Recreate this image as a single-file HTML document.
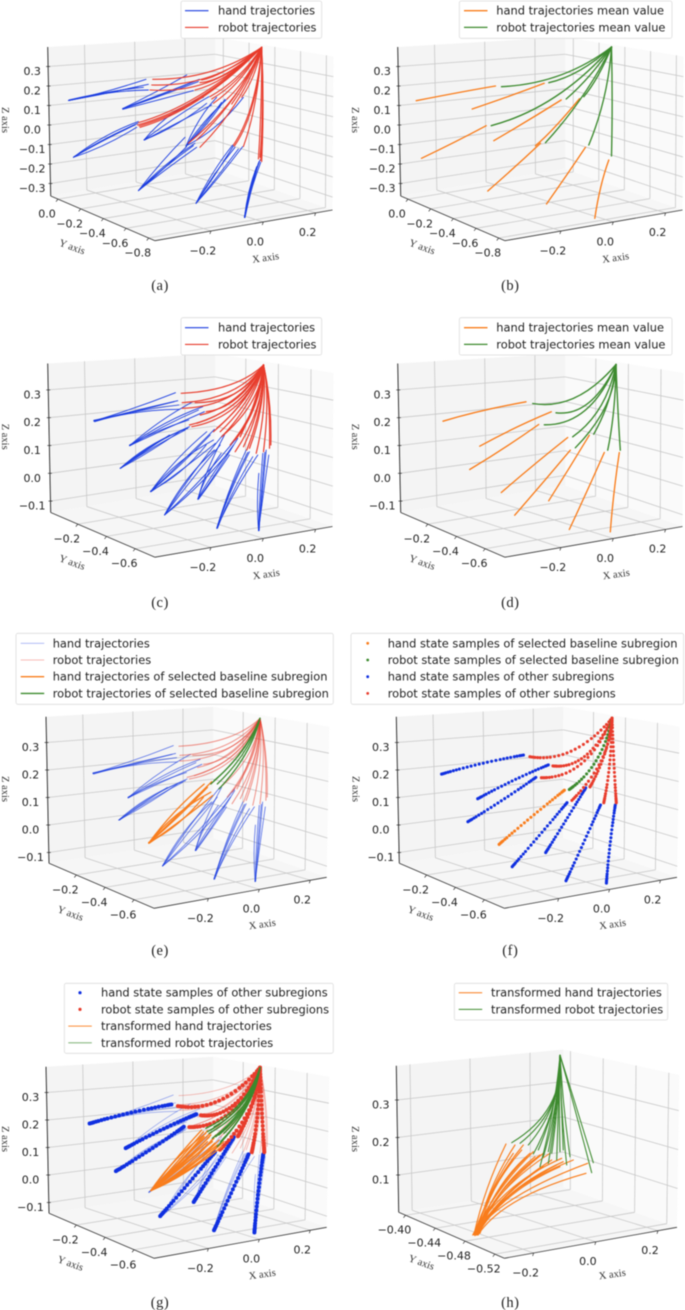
<!DOCTYPE html>
<html lang="en">
<head>
<meta charset="utf-8">
<title>Hand and robot trajectories</title>
<style>
html,body{margin:0;padding:0;background:#fff;}
#figure{display:block;width:685px;height:1310px;filter:blur(0.4px);}
.tick{font-family:"DejaVu Sans","Liberation Sans",sans-serif;font-size:11px;fill:#222;text-anchor:middle;}
.legend-text{font-family:"DejaVu Sans","Liberation Sans",sans-serif;font-size:11.4px;fill:#222;}
.axis-title{font-family:"Liberation Serif",serif;font-size:10.5px;fill:#333;text-anchor:middle;}
.caption{font-family:"Liberation Serif",serif;font-size:14.5px;letter-spacing:.5px;fill:#222;text-anchor:middle;}
</style>
</head>
<body>
<svg id="figure" xmlns="http://www.w3.org/2000/svg" width="685" height="1310" viewBox="0 0 685 1310"></svg>
<script>
/* Values: projected offsets from the shared start of the
   robot trajectories, in view units (sideways, drop). Hand lines: near, mid, far. Robot lines: mid, end. */
const handBundlesA = [
 [[-347,96,-465,132,-580,160],[-340,111,-460,136,-580,160],[-340,128,-460,137,-580,160],[-370,118,-475,140,-580,160],[-355,120,-470,136,-578,158]],
 [[-225,83,-320,135,-417,184],[-187,96,-300,140,-417,184],[-190,103,-305,146,-415,184],[-205,130,-310,158,-417,186],[-195,100,-310,145,-417,184]],
 [[-370,223,-470,268,-565,330],[-375,240,-470,292,-565,330],[-380,233,-475,280,-565,330],[-372,228,-470,275,-563,328]],
 [[-158,148,-250,205,-353,278],[-165,168,-255,230,-353,278],[-150,173,-250,225,-351,278],[-175,150,-270,200,-353,278]],
 [[-230,270,-300,345,-370,430],[-200,288,-290,355,-370,430],[-195,300,-285,365,-370,430],[-225,298,-295,365,-370,430],[-205,295,-290,360,-368,428]],
 [[-135,150,-185,215,-227,296],[-110,156,-165,230,-227,296],[-107,158,-170,222,-227,296],[-55,150,-135,235,-227,296],[-120,165,-175,235,-227,296]],
 [[-87,293,-145,375,-197,468],[-85,296,-140,382,-197,468],[-57,298,-128,388,-197,468],[-70,305,-135,390,-197,468],[-80,300,-142,382,-195,466]],
 [[-5,338,-33,425,-52,511],[-8,343,-35,428,-52,511],[-10,348,-32,432,-50,511],[-15,358,-38,432,-52,511],[-3,345,-30,425,-52,509]]
];
const robotBundlesA = [
 [[-155,73,-327,96],[-155,88,-330,113],[-155,103,-335,128]],
 [[-105,68,-180,98],[-105,78,-185,106],[-105,85,-200,128]],
 [[-185,143,-370,226],[-185,155,-365,240],[-185,149,-373,233],[-180,150,-368,236]],
 [[-70,85,-155,148],[-65,95,-145,168],[-68,90,-150,155]],
 [[-85,150,-220,288],[-80,145,-195,278],[-70,155,-185,300]],
 [[-45,85,-105,156],[-25,85,-60,150],[-40,90,-90,170]],
 [[-30,170,-85,293],[-28,175,-82,296],[-20,165,-55,298]],
 [[3,170,-5,330],[4,170,0,343],[-2,170,-10,335],[2,165,-3,340]]
];
const handMeanA = [
 [-348,117,-450,135,-586,161],[-202,109,-300,145,-418,186],[-376,236,-470,285,-570,334],[-151,159,-250,220,-353,281],
 [-213,289,-290,360,-371,432],[-96,155,-170,240,-228,296],[-78,301,-135,385,-195,471],[-8,339,-32,420,-50,514]
];
const robotMeanA = [
 [-155,85,-330,119],[-95,70,-188,107],[-170,150,-361,236],[-65,85,-136,156],
 [-88,149,-198,287],[-40,85,-83,149],[-22,150,-68,294],[2,165,0,327]
];
const handBundlesC = [
 [[-264,83,-385,128,-509,168],[-257,107,-385,137,-509,168],[-254,120,-385,140,-509,168],[-252,133,-385,143,-507,170],[-268,110,-390,140,-509,166]],
 [[-212,110,-310,170,-402,242],[-182,125,-295,175,-402,242],[-177,140,-290,190,-402,242],[-224,165,-315,198,-402,240],[-195,135,-300,185,-400,242]],
 [[-222,185,-330,240,-430,310],[-227,190,-335,240,-430,310],[-252,200,-340,258,-430,310],[-282,210,-360,262,-428,310],[-235,195,-335,250,-430,310]],
 [[-170,200,-260,285,-339,380],[-147,193,-245,290,-339,380],[-144,235,-240,310,-337,380],[-172,240,-250,320,-339,378],[-160,210,-250,300,-339,380],[-150,225,-255,295,-336,378]],
 [[-147,255,-230,345,-297,450],[-122,210,-215,330,-297,450],[-107,265,-200,365,-297,450],[-77,215,-190,345,-297,450],[-130,240,-220,350,-295,448]],
 [[-117,210,-165,310,-197,403],[-127,265,-170,335,-197,403],[-77,220,-140,320,-197,403],[-102,270,-150,340,-195,403],[-90,240,-150,325,-197,401]],
 [[-52,255,-100,370,-140,490],[-42,260,-96,375,-140,490],[-17,270,-85,380,-140,490],[-32,275,-92,382,-138,490],[-47,262,-98,372,-140,488]],
 [[-2,265,-10,380,-15,497],[8,255,-3,378,-15,497],[16,270,0,385,-15,497],[-14,325,-18,410,-15,497],[4,262,-6,380,-13,497]]
];
const robotBundlesC = [
 [[-102,60,-247,85],[-102,80,-244,113],[-102,95,-244,130]],
 [[-85,85,-205,113],[-80,100,-172,140],[-85,100,-190,150]],
 [[-85,115,-222,180],[-85,125,-215,185],[-80,110,-200,175]],
 [[-55,100,-140,190],[-50,105,-130,200],[-45,110,-125,215],[-60,105,-150,200]],
 [[-35,110,-120,210],[-30,125,-100,240],[-20,130,-85,260]],
 [[-25,105,-70,215],[-25,120,-85,225],[-15,120,-60,245]],
 [[-10,120,-50,255],[-8,125,-42,250],[0,130,-22,265]],
 [[10,110,0,260],[15,110,18,250],[18,115,22,240]]
];
const handMeanC = [
 [-270,112,-402,139,-519,170],[-194,142,-302,190,-409,245],[-232,180,-335,250,-439,315],[-145,219,-245,300,-344,384],
 [-137,257,-220,355,-304,452],[-80,212,-140,310,-202,409],[-35,264,-87,380,-140,495],[10,264,-6,385,-17,502]
];
const robotMeanC = [
 [-122,99,-250,117],[-82,115,-180,145],[-92,137,-215,181],[-47,127,-130,217],
 [-32,127,-122,250],[-22,107,-67,209],[-7,137,-25,257],[6,137,13,257]
];
const selectedBundle = 3;
const sampleT = [0,.02,.04,.07,.1,.14,.18,.22,.26,.31,.36,.41,.46,.51,.56,.61,.66,.71,.76,.8,.84,.88,.91,.94,.96,.98,1];
const transformedHandFarG = [-332,374];
const transformedHandG = [
 [-178,190,-262,285],[-172,195,-255,290],[-165,200,-258,282],[-160,192,-248,290],[-155,212,-250,300],[-150,205,-240,295],
 [-145,225,-245,305],[-140,215,-235,300],[-135,205,-225,300],[-130,235,-235,315],[-125,220,-225,310],[-120,230,-222,315],
 [-115,240,-228,320],[-170,210,-255,300],[-148,196,-245,288],[-160,225,-250,305],[-110,225,-218,310],[-138,230,-235,312]
];
const transformedRobotG = [
 [-62,110,-165,185],[-55,108,-150,190],[-50,105,-140,180],[-48,112,-155,200],[-42,110,-125,205],[-40,118,-130,240],
 [-38,108,-110,200],[-38,115,-115,220],[-45,115,-135,210],[-42,120,-120,225],[-52,118,-145,215],[-58,112,-160,195]
];
const transformedHandH = [
 [-162,267,-218,400,-258,538],[-135,270,-205,400,-250,540],[-110,270,-195,395,-255,535],[-90,295,-185,405,-245,540],
 [-50,295,-170,410,-252,538],[5,310,-150,405,-258,535],[10,320,-145,415,-250,540],[83,325,-130,425,-255,535],
 [78,355,-125,435,-245,538],[-30,295,-165,405,-262,540],[-75,305,-180,415,-240,535],[-100,305,-190,415,-255,542],
 [-60,300,-175,410,-248,535],[-10,330,-155,425,-252,538],[-140,315,-210,425,-258,540],[-115,285,-198,405,-245,538],
 [-25,315,-160,420,-250,535],[-50,335,-168,430,-255,538],[0,335,-150,425,-248,540],[-80,290,-182,408,-258,536],
 [-140,295,-208,415,-252,540],[40,315,-140,412,-255,538]
];
const transformedRobotH = [
 [-30,150,-145,263],[-25,148,-120,265],[-22,145,-95,270],[-20,150,-80,297],[-22,165,-60,335],[-15,155,-50,305],
 [-12,165,-35,325],[-8,150,-25,295],[-2,145,0,290],[6,165,20,330],[12,155,30,305],[48,175,95,353],[50,160,100,323],
 [-12,145,-35,290],[-18,143,-65,285],[-5,158,-10,315],[4,142,10,285]
];
const zTicksLong = [0.3,0.2,0.1,0,-0.1,-0.2,-0.3];
const zTicksShort = [0.3,0.2,0.1,0,-0.1];
const zTicksH = [0.3,0.2,0.1];
const xTicks = [-0.2,0,0.2];
const yTicksLong = [0,-0.2,-0.4,-0.6,-0.8];
const yTicksShort = [-0.2,-0.4,-0.6];
const yTicksH = [-0.40,-0.44,-0.48,-0.52];
const legendA = ['hand trajectories','robot trajectories'];
const legendB = ['hand trajectories mean value','robot trajectories mean value'];
const legendE = ['hand trajectories','robot trajectories','hand trajectories of selected baseline subregion','robot trajectories of selected baseline subregion'];
const legendF = ['hand state samples of selected baseline subregion','robot state samples of selected baseline subregion','hand state samples of other subregions','robot state samples of other subregions'];
const legendG = ['hand state samples of other subregions','robot state samples of other subregions','transformed hand trajectories','transformed robot trajectories'];
const legendH = ['transformed hand trajectories','transformed robot trajectories'];

const BLUE='#1b3de0', RED='#e83c2c', ORANGE='#f97d1c', GREEN='#3c8a2e';
const root=document.getElementById('figure');
const NS='http://www.w3.org/2000/svg';

function make(tag,attrs,parent){
  const el=document.createElementNS(NS,tag);
  for(const k in attrs){el.setAttribute(k,attrs[k]);}
  parent.appendChild(el);
  return el;
}
function lerp(p,q,t){return [p[0]+(q[0]-p[0])*t,p[1]+(q[1]-p[1])*t];}
function shiftFrame(f,dx,dy){
  const o={};
  for(const k in f){o[k]=[f[k][0]+dx,f[k][1]+dy];}
  return o;
}
function fmt(v,dec){return (v<0?'\u2212':'')+Math.abs(v).toFixed(dec);}

function segment(g,p,q,color,width,name){
  const el=make('line',{x1:p[0],y1:p[1],x2:q[0],y2:q[1],stroke:color,'stroke-width':width},g);
  
  
  return el;
}
function wall(g,pts,fill,name){
  const el=make('polygon',{points:pts.map(p=>p.join(',')).join(' '),fill:fill},g);
  
  
}
function label(g,x,y,text,cls,name,transform){
  const el=make('text',{x:x,y:y,class:cls},g);
  if(transform){el.setAttribute('transform',transform);}
  el.textContent=text;
  
  
  return el;
}

/* axis functions */
function zFraction(p,v){return (p.z0-p.zk*v-p.f.A[1])/(p.f.B[1]-p.f.A[1]);}
function xFractionBack(p,v){return p.xb[0]+p.xb[1]*v;}
function xFractionFront(p,v){return p.xf[0]+p.xf[1]*v;}
function yFraction(p,v){return p.y0-p.ys*v;}
function viewX(p,u){return p.tip[0]+u*p.k;}
function viewY(p,d){return p.tip[1]+d*p.k;}

function drawFrame(g,p){
  const f=p.f;
  wall(g,[f.A,f.B,f.D,f.C],'#f4f4f4','left-wall');
  wall(g,[f.C,f.D,f.F,f.E],'#fafafa','right-wall');
  wall(g,[f.B,f.G,f.F,f.D],'#f6f6f6','floor');
  const GRID='#c8c8c8';
  p.xTicks.forEach(v=>{
    const b=xFractionBack(p,v), ff=xFractionFront(p,v);
    const bot=lerp(f.B,f.D,b), top=lerp(f.A,f.C,b), front=lerp(f.G,f.F,ff);
    segment(g,bot,top,GRID,.8,'x-gridline-wall');
    segment(g,bot,front,GRID,.8,'x-gridline-floor');
    segment(g,front,[front[0]-1,front[1]+3],'#333',.7,'x-tick-mark');
    label(g,front[0]-8,front[1]+23.3,fmt(v,1),'tick','x-tick-label');
  });
  p.yTicks.forEach(v=>{
    const t=yFraction(p,v);
    const r=lerp(f.D,f.F,t), top=lerp(f.C,f.E,t), edge=lerp(f.B,f.G,t);
    segment(g,r,top,GRID,.8,'y-gridline-wall');
    segment(g,edge,r,GRID,.8,'y-gridline-floor');
    segment(g,edge,[edge[0]-2,edge[1]+2.5],'#333',.7,'y-tick-mark');
    label(g,edge[0]-11,edge[1]+18.5,fmt(v,p.yDec),'tick','y-tick-label');
  });
  p.zTicks.forEach(v=>{
    const t=zFraction(p,v);
    const l=lerp(f.A,f.B,t), m=lerp(f.C,f.D,t), r=lerp(f.E,f.F,t);
    segment(g,l,m,GRID,.8,'z-gridline-left');
    segment(g,m,r,GRID,.8,'z-gridline-right');
    segment(g,[l[0]-2,l[1]],[l[0]+2,l[1]],'#333',.7,'z-tick-mark');
    label(g,f.A[0]-15.5,l[1]+8.5,fmt(v,1),'tick','z-tick-label');
  });
  segment(g,f.A,f.B,'#222',.9,'z-axis-line');
  segment(g,f.B,f.G,'#333',.8,'y-axis-line');
  segment(g,f.G,f.F,'#333',.8,'x-axis-line');
  const T=p.titles;
  label(g,T.x[0],T.x[1],'X axis','axis-title','x-axis-title','rotate(-8 '+T.x[0]+' '+T.x[1]+')');
  label(g,T.y[0],T.y[1],'Y axis','axis-title','y-axis-title','rotate(20 '+T.y[0]+' '+T.y[1]+')');
  label(g,T.z[0],T.z[1],'Z axis','axis-title','z-axis-title','rotate(90 '+T.z[0]+' '+T.z[1]+')');
  label(g,p.cap[0],p.cap[1],p.capText,'caption','panel-caption');
}
function controlPoint(t){
  return [2*t[2]-(t[0]+t[4])/2, 2*t[3]-(t[1]+t[5])/2];
}
function drawCurve(g,p,t,color,width,opacity,name){
  const c=controlPoint(t);
  const d='M'+viewX(p,t[0]).toFixed(1)+' '+viewY(p,t[1]).toFixed(1)+'Q'+viewX(p,c[0]).toFixed(1)+' '+viewY(p,c[1]).toFixed(1)+' '+viewX(p,t[4]).toFixed(1)+' '+viewY(p,t[5]).toFixed(1);
  const el=make('path',{d:d,fill:'none',stroke:color,'stroke-width':width,'stroke-opacity':opacity,'stroke-linecap':'round'},g);
  
  
}
function robotLine(r){return [0,0,r[0],r[1],r[2],r[3]];}
function drawDots(g,p,t,color,radius,name){
  const c=controlPoint(t);
  sampleT.forEach(s=>{
    const a=(1-s)*(1-s), b=2*s*(1-s), e=s*s;
    const u=a*t[0]+b*c[0]+e*t[4], v=a*t[1]+b*c[1]+e*t[5];
    const el=make('circle',{cx:viewX(p,u).toFixed(1),cy:viewY(p,v).toFixed(1),r:radius,fill:color},g);
    
    
  });
}
function drawBundles(g,p,hands,robots,hc,rc,hw,rw,hOp,rOp,skip){
  hands.forEach((bundle,i)=>{ if(i!==skip){bundle.forEach(t=>drawCurve(g,p,t,hc,hw,hOp,'hand-trajectory'));} });
  robots.forEach((bundle,i)=>{ if(i!==skip){bundle.forEach(r=>drawCurve(g,p,robotLine(r),rc,rw,rOp,'robot-trajectory'));} });
}
function drawMeans(g,p,hands,robots,hc,rc,w){
  hands.forEach(t=>drawCurve(g,p,t,hc,w,1,'hand-mean-trajectory'));
  robots.forEach(r=>drawCurve(g,p,robotLine(r),rc,w,1,'robot-mean-trajectory'));
}
function drawLegend(parent,box,texts,keys){
  const g=make('g',{},parent);
  
  
  const bg=make('rect',{x:box.x,y:box.y,width:box.w,height:box.h,rx:2,fill:'#fff','fill-opacity':.92,stroke:'#dcdcdc','stroke-width':.8},g);
  
  
  texts.forEach((text,i)=>{
    const y=box.first+i*16.7, key=keys[i];
    const entry=make('g',{},g);
    
    
    if(key.dot){
      const m=make('circle',{cx:box.markX,cy:y,r:key.r,fill:key.color},entry);
      
      
    }else{
      const m=make('line',{x1:box.lineX,x2:box.lineX+23.5,y1:y,y2:y,stroke:key.color,'stroke-width':key.w,'stroke-opacity':key.op},entry);
      
      
    }
    const t=make('text',{x:box.textX,y:y+4,class:'legend-text'},entry);
    t.textContent=text;
    
    
  });
}

const frameA={A:[47.7,47],B:[50.7,196],C:[215,37],D:[215,169],E:[333.5,56.5],F:[332.5,210],G:[155,240.7]};
const frameE={A:[46,716.7],B:[49,863.3],C:[213,706.8],D:[213,838],E:[329.3,726.7],F:[326.7,877.3],G:[154,908.3]};
const frameH={A:[396.3,1065.7],B:[398.7,1212.3],C:[563,1049.5],D:[563,1187],E:[679.3,1075],F:[677,1227.3],G:[504.3,1258.3]};
const scaleA={xb:[.52,1.5],xf:[.61,1.475],y0:.07,ys:1.0875,yDec:1,xTicks:xTicks,yTicks:yTicksLong,zTicks:zTicksLong,k:1/3};
const scaleC={xb:[.52,1.5],xf:[.61,1.475],y0:-.015,ys:1.375,yDec:1,xTicks:xTicks,yTicks:yTicksShort,zTicks:zTicksShort,k:1/3};
const scaleE=Object.assign({},scaleC,{k:.985/3});

function makePanel(id,base,extra){
  const p=Object.assign({},base,extra);
  const g=make('g',{},root);
  
  
  p.capText='('+id+')';
  drawFrame(g,p);
  const marks=make('g',{},g);
  
  
  p.g=g; p.marks=marks;
  return p;
}

/* panel a */
const pa=makePanel('a',scaleA,{f:frameA,z0:125,zk:195,tip:[261.7,47.3],titles:{x:[266,261],y:[71,250],z:[2,120]},cap:[160,290]});
drawBundles(pa.marks,pa,handBundlesA,robotBundlesA,BLUE,RED,.9,1.1,1,1);
drawLegend(pa.g,{x:181,y:1,w:140.7,h:37.3,first:10.7,lineX:185,textX:218},legendA,[{color:BLUE,w:1.1,op:1},{color:RED,w:1.1,op:1}]);

/* panel b */
const pb=makePanel('b',scaleA,{f:shiftFrame(frameA,350,0),z0:125,zk:195,tip:[611.5,47],titles:{x:[616,261],y:[421,250],z:[352,120]},cap:[510.3,290]});
drawMeans(pb.marks,pb,handMeanA,robotMeanA,ORANGE,GREEN,1.35);
drawLegend(pb.g,{x:459.3,y:1,w:212.7,h:37.3,first:10.7,lineX:464,textX:496.3},legendB,[{color:ORANGE,w:1.3,op:1},{color:GREEN,w:1.3,op:1}]);

/* panel c */
const pc=makePanel('c',scaleC,{f:shiftFrame(frameA,0,316.5),z0:473.3,zk:278,tip:[263.5,365],titles:{x:[266.7,577.5],y:[71,565.5],z:[2,436.7]},cap:[160,607]});
drawBundles(pc.marks,pc,handBundlesC,robotBundlesC,BLUE,RED,.85,1.2,1,1);
drawLegend(pc.g,{x:181,y:317.7,w:140.7,h:37.3,first:327.7,lineX:185,textX:218},legendA,[{color:BLUE,w:1.1,op:1},{color:RED,w:1.1,op:1}]);

/* panel d */
const pd=makePanel('d',scaleC,{f:shiftFrame(frameA,350,316.5),z0:473.3,zk:278,tip:[616,364.5],titles:{x:[616.7,577.5],y:[421,565.5],z:[352,436.7]},cap:[510.3,607]});
drawMeans(pd.marks,pd,handMeanC,robotMeanC,ORANGE,GREEN,1.35);
drawLegend(pd.g,{x:459.3,y:317.7,w:212.7,h:37.3,first:327.7,lineX:464,textX:496.3},legendB,[{color:ORANGE,w:1.3,op:1},{color:GREEN,w:1.3,op:1}]);

/* panel e */
const pe=makePanel('e',scaleE,{f:frameE,z0:825,zk:275,tip:[260,718.3],titles:{x:[262.7,927.5],y:[69.3,916.5],z:[2,789]},cap:[160,955]});
drawBundles(pe.marks,pe,handBundlesC,robotBundlesC,BLUE,RED,.85,1,.7,.55,selectedBundle);
handBundlesC[selectedBundle].forEach(t=>drawCurve(pe.marks,pe,t,ORANGE,1.25,1,'selected-hand-trajectory'));
robotBundlesC[selectedBundle].forEach(r=>drawCurve(pe.marks,pe,robotLine(r),GREEN,1.25,1,'selected-robot-trajectory'));
drawLegend(pe.g,{x:16,y:633.3,w:317.3,h:71,first:643.3,lineX:20.7,textX:52.7},legendE,[{color:BLUE,w:.9,op:.4},{color:RED,w:.9,op:.35},{color:ORANGE,w:1.4,op:1},{color:GREEN,w:1.4,op:1}]);

/* panel f */
const pf=makePanel('f',scaleE,{f:shiftFrame(frameE,350.3,0),z0:825,zk:275,tip:[612,718.3],titles:{x:[613,927.5],y:[419.6,916.5],z:[352.3,789]},cap:[510.3,955]});
handMeanC.forEach((t,i)=>drawDots(pf.marks,pf,t,i===selectedBundle?ORANGE:'#0f2fe0',1.55,'hand-state-sample'));
robotMeanC.forEach((r,i)=>drawDots(pf.marks,pf,robotLine(r),i===selectedBundle?GREEN:RED,1.55,'robot-state-sample'));
drawLegend(pf.g,{x:351,y:633.3,w:332.7,h:71,first:643.3,markX:367.7,textX:387.7},legendF,[{dot:1,color:ORANGE,r:1.4},{dot:1,color:GREEN,r:1.4},{dot:1,color:'#0f2fe0',r:1.4},{dot:1,color:RED,r:1.4}]);

/* panel g */
const pg=makePanel('g',scaleE,{f:shiftFrame(frameE,0,350),z0:1175,zk:275,tip:[260,1067.7],titles:{x:[262.7,1277.5],y:[69.3,1266.5],z:[2,1139]},cap:[160,1307]});
drawBundles(pg.marks,pg,handBundlesC,robotBundlesC,BLUE,RED,.7,.8,.45,.4);
handMeanC.forEach((t,i)=>{ if(i!==selectedBundle){drawDots(pg.marks,pg,t,'#0f2fe0',2,'hand-state-sample');} });
robotMeanC.forEach((r,i)=>{ if(i!==selectedBundle){drawDots(pg.marks,pg,robotLine(r),RED,2,'robot-state-sample');} });
transformedHandG.forEach(h=>drawCurve(pg.marks,pg,[h[0],h[1],h[2],h[3],transformedHandFarG[0],transformedHandFarG[1]],ORANGE,1.3,1,'transformed-hand-trajectory'));
transformedRobotG.forEach(r=>drawCurve(pg.marks,pg,robotLine(r),GREEN,1.3,1,'transformed-robot-trajectory'));
drawLegend(pg.g,{x:64.3,y:983.3,w:269,h:70,first:992.7,markX:80,lineX:68.3,textX:101},legendG,[{dot:1,color:'#0f2fe0',r:1.6},{dot:1,color:RED,r:1.6},{color:ORANGE,w:1,op:.9},{color:GREEN,w:1.2,op:.6}]);

/* panel h */
const ph=makePanel('h',{xb:[.442,1.8],xf:[.53,1.8],y0:-2.756,ys:7.05,yDec:2,xTicks:xTicks,yTicks:yTicksH,zTicks:zTicksH,k:1/3},{f:frameH,z0:1212.5,zk:375,tip:[560,1055],titles:{x:[612.7,1277.5],y:[420.3,1265.5],z:[352,1139]},cap:[510.3,1307]});
transformedHandH.forEach(t=>drawCurve(ph.marks,ph,t,ORANGE,1.15,1,'transformed-hand-trajectory'));
transformedRobotH.forEach(r=>drawCurve(ph.marks,ph,robotLine(r),GREEN,1.05,1,'transformed-robot-trajectory'));
drawLegend(ph.g,{x:454.3,y:983.3,w:213.4,h:36.7,first:992.7,lineX:458.7,textX:491},legendH,[{color:ORANGE,w:1,op:1},{color:GREEN,w:1,op:1}]);
</script>
</body>
</html>
